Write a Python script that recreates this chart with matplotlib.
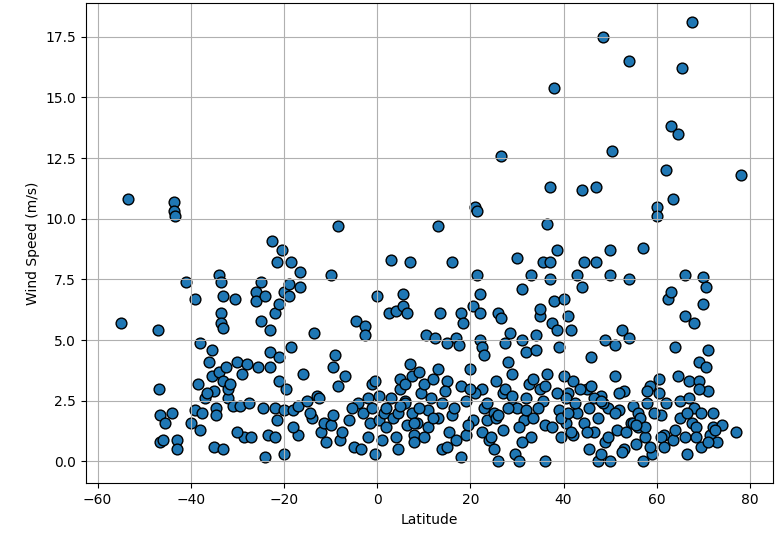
import matplotlib
matplotlib.use("Agg")
import matplotlib.pyplot as plt

# (latitude, wind speed) pairs, southern hemisphere
south_points = [
    (-55, 5.7), (-53.5, 10.8), (-47, 5.4), (-46.8, 3.0), (-46.5, 1.9), (-46.5, 0.8), (-46, 0.9),
    (-45.5, 1.6), (-43.5, 10.7), (-43.5, 10.3), (-43.3, 10.1), (-43, 0.9), (-43, 0.5), (-41, 7.4),
    (-39, 6.7), (-39, 2.1), (-38.5, 3.2), (-38, 4.9), (-38, 1.3), (-37.5, 2.0), (-37, 2.6), (-36, 4.1),
    (-35.5, 4.6), (-35.5, 3.5), (-35, 2.9), (-35, 0.6), (-34.5, 2.2), (-34.5, 1.9), (-34, 3.7),
    (-34, 7.7), (-33.5, 7.4), (-33.5, 6.1), (-33.5, 5.7), (-33, 6.8), (-33, 5.5), (-33, 3.3),
    (-33, 0.5), (-32.5, 3.9), (-32, 2.6), (-32, 3.0), (-31.5, 3.2), (-31, 2.3), (-30.5, 6.7),
    (-30, 4.1), (-29.5, 2.3), (-29, 3.6), (-28.5, 1.0), (-28, 4.0), (-27, 1.0), (-26, 7.0), (-26, 6.6),
    (-25.5, 3.9), (-25, 5.8), (-25, 7.4), (-24.5, 2.2), (-24, 6.8), (-24, 0.2), (-23.5, 1.1),
    (-23, 5.4), (-23, 4.5), (-23, 3.9), (-22.5, 9.1), (-22, 6.1), (-22, 2.2), (-21.5, 1.7),
    (-21.5, 8.2), (-21, 6.5), (-21, 4.3), (-21, 3.3), (-20.5, 8.7), (-20, 7.0), (-20, 2.1), (-20, 0.3),
    (-19.5, 3.0), (-19, 6.8), (-19, 7.3), (-18.5, 8.2), (-18.5, 4.7), (-18, 2.1), (-17, 1.1),
    (-17, 2.3), (-16.5, 7.8), (-16.5, 7.2), (-16, 3.6), (-15, 2.5), (-14, 1.8), (-13.5, 5.3),
    (-13, 2.7), (-12, 1.2), (-11.5, 1.6), (-11, 0.8), (-10, 7.7), (-10, 1.5), (-9.5, 3.9), (-9.5, 1.9),
    (-9, 4.4), (-8.5, 9.7), (-8.5, 3.1), (-8, 0.9), (-7, 3.5), (-6, 1.7), (-5, 0.6), (-4.5, 5.8),
    (-4, 2.4), (-3.5, 0.5), (-3, 2.0), (-2.5, 5.6), (-2.5, 5.2), (-2, 2.6), (-1.5, 1.6), (-1, 3.2),
    (-1, 2.2), (-0.5, 0.3), (-0.5, 3.3),
    (-44, 2.0), (-40, 1.6), (-36.5, 2.8), (-30, 1.2), (-27.5, 2.4), (-22, 1.0), (-18, 1.4),
    (-14.5, 2.0), (-12.5, 2.6), (-7.5, 1.2), (-5.5, 2.2), (-2, 1.0),
]

# northern hemisphere
north_points = [
    (0, 6.8), (0.5, 1.7), (1, 0.9), (1.5, 2.0), (2, 2.2), (2.5, 6.1), (3, 8.3), (3, 2.6), (3.5, 1.8),
    (4, 6.2), (4, 1.0), (4.5, 0.5), (5, 3.0), (5, 3.4), (5.5, 6.9), (5.5, 6.4), (6, 2.5), (6, 3.2),
    (6.5, 6.1), (6.5, 1.5), (7, 8.2), (7, 4.0), (7.5, 3.5), (7.5, 2.0), (8, 1.1), (8, 0.8), (9, 3.7),
    (9.5, 2.8), (10, 3.2), (10.5, 5.2), (11, 2.1), (11, 1.4), (12, 3.4), (12.5, 5.1), (13, 9.7),
    (13, 3.8), (13, 1.8), (13.5, 6.1), (14, 2.4), (14, 0.5), (15, 4.9), (15, 3.3), (15.5, 1.2),
    (16, 8.2), (16, 1.9), (17, 5.1), (17, 0.9), (17.5, 4.8), (18, 6.1), (18, 3.1), (18, 0.2),
    (18.5, 5.7), (19, 1.1), (19, 2.5), (20, 3.8), (20.5, 1.7), (20.5, 6.4), (21, 10.5), (21.5, 10.3),
    (21.5, 7.7), (22, 6.9), (22, 6.1), (22, 5.0), (22.5, 4.7), (22.5, 3.0), (22.5, 1.2), (23, 2.2),
    (23, 4.4), (23.5, 1.7), (24, 0.9), (25, 0.5), (25, 2.0), (25.5, 3.3), (26, 6.1), (26, 0.0),
    (26.5, 12.6), (26.5, 5.9), (27, 2.8), (27, 1.3), (27.5, 4.9), (28, 4.1), (28.5, 5.3), (29, 2.3),
    (29, 3.6), (29.5, 0.3), (30, 8.4), (30, 2.2), (30.5, 0.0), (31, 7.1), (31, 5.0), (31.5, 1.7),
    (32, 4.5), (32, 2.1), (32.5, 3.2), (33, 7.7), (33, 1.0), (33.5, 3.4), (34, 4.6), (34, 5.2),
    (35, 6.0), (35, 6.3), (35.5, 8.2), (35.5, 2.5), (36, 0.0), (36, 1.5), (36.5, 3.6), (36.5, 9.8),
    (37, 8.2), (37, 7.5), (37, 11.3), (37.5, 5.7), (38, 15.4), (38, 6.6), (38.5, 5.4), (38.5, 8.7),
    (39, 4.7), (39, 2.1), (39.5, 1.0), (40, 3.5), (40, 6.7), (40.5, 1.6), (41, 6.0), (41, 2.8),
    (41.5, 5.4), (42, 1.1), (42, 3.3), (43, 7.7), (43, 2.0), (44, 11.2), (44, 7.2), (44.5, 8.2),
    (45, 3.0), (45.5, 0.5), (46, 4.3), (46, 3.1), (46.5, 1.2), (47, 8.2), (47, 11.3), (47.5, 0.0),
    (48, 2.7), (48, 0.3), (48.5, 17.5), (49, 5.0), (49, 0.8), (49.5, 2.2), (50, 8.7), (50, 7.7),
    (50, 0.0), (50.5, 12.8), (51, 3.5), (51, 4.8), (51.5, 1.3), (52, 2.1), (52.5, 5.4), (53, 2.9),
    (53, 0.5), (54, 16.5), (54, 7.5), (54, 5.1), (54.5, 1.6), (55, 2.3), (55.5, 0.7), (56, 1.4),
    (57, 8.8), (57, 0.0), (57.5, 1.0), (58, 2.4), (58.5, 3.1), (59, 0.3), (60, 10.5), (60, 10.1),
    (60.5, 3.4), (61, 1.9), (61.5, 1.1), (62, 12.0), (62.5, 6.7), (63, 13.8), (63, 7.0), (63.5, 10.8),
    (64, 4.7), (64.5, 13.5), (64.5, 3.5), (65, 2.5), (65.5, 16.2), (66, 1.0), (66, 7.7), (66, 6.0),
    (66.5, 0.3), (67, 3.3), (67.5, 18.1), (67.5, 1.6), (68, 5.7), (68, 2.2), (68.5, 1.4), (69, 4.1),
    (69, 3.3), (69.5, 0.6), (70, 6.5), (70, 7.6), (70.5, 7.2), (70.5, 3.9), (71, 4.6), (71, 2.9),
    (71.5, 1.1), (72, 2.0), (72, 1.4), (73, 0.8), (74, 1.5), (77, 1.2), (78, 11.8),
    # dense low-wind cloud
    (0.5, 2.7), (2, 1.4), (4.5, 2.0), (6, 2.4), (8.5, 1.6), (9, 2.2), (10, 1.0), (11.5, 2.6),
    (12, 1.8), (14.5, 2.9), (16.5, 2.2), (19.5, 1.5), (21, 2.8), (23.5, 2.4), (24.5, 1.0),
    (25.5, 1.8), (27.5, 3.0), (28, 2.2), (30.5, 1.4), (32, 2.6), (33.5, 1.8), (34.5, 2.2),
    (35, 3.0), (37.5, 1.4), (38.5, 2.8), (39.5, 1.8), (40.5, 2.6), (41.5, 1.2), (42.5, 2.4),
    (43.5, 3.0), (44.5, 1.6), (45.5, 2.2), (46.5, 2.6), (47.5, 1.8), (48.5, 2.4), (49.5, 1.0),
    (51, 2.0), (52, 2.8), (53.5, 1.2), (55, 1.6), (56, 2.0), (56.5, 1.8), (57.5, 1.4), (58.5, 0.6),
    (59.5, 2.0), (60.5, 2.8), (61, 1.0), (62, 2.4), (63.5, 0.9), (65, 1.8), (67, 2.6), (68.5, 1.0),
    (69.5, 2.0), (71, 0.8), (72.5, 1.3), (5, 2.3), (8, 1.6), (15, 0.6), (20, 3.0), (26, 1.9),
    (29, 2.7), (31, 0.8), (36, 3.1), (41, 2.0), (45, 1.2), (48, 2.5), (52.5, 0.4), (55.5, 1.5),
    (58, 2.9), (61.5, 0.6), (64, 1.3), (66.5, 2.0), (69, 3.0),
]

latitude = [p[0] for p in south_points + north_points]
wind_speed = [p[1] for p in south_points + north_points]

fig, ax = plt.subplots(figsize=(7.81, 5.37), dpi=100)
ax.scatter(latitude, wind_speed, s=60, color="#1f77b4", edgecolors="black", linewidths=1)
ax.set_xlabel("Latitude")
ax.set_ylabel("Wind Speed (m/s)")
ax.set_xlim(-62.5, 85)
ax.set_ylim(-0.9, 18.9)
ax.grid(True)
fig.subplots_adjust(left=0.11, right=0.99, top=0.995, bottom=0.1)
fig.savefig("out.png", dpi=100)
